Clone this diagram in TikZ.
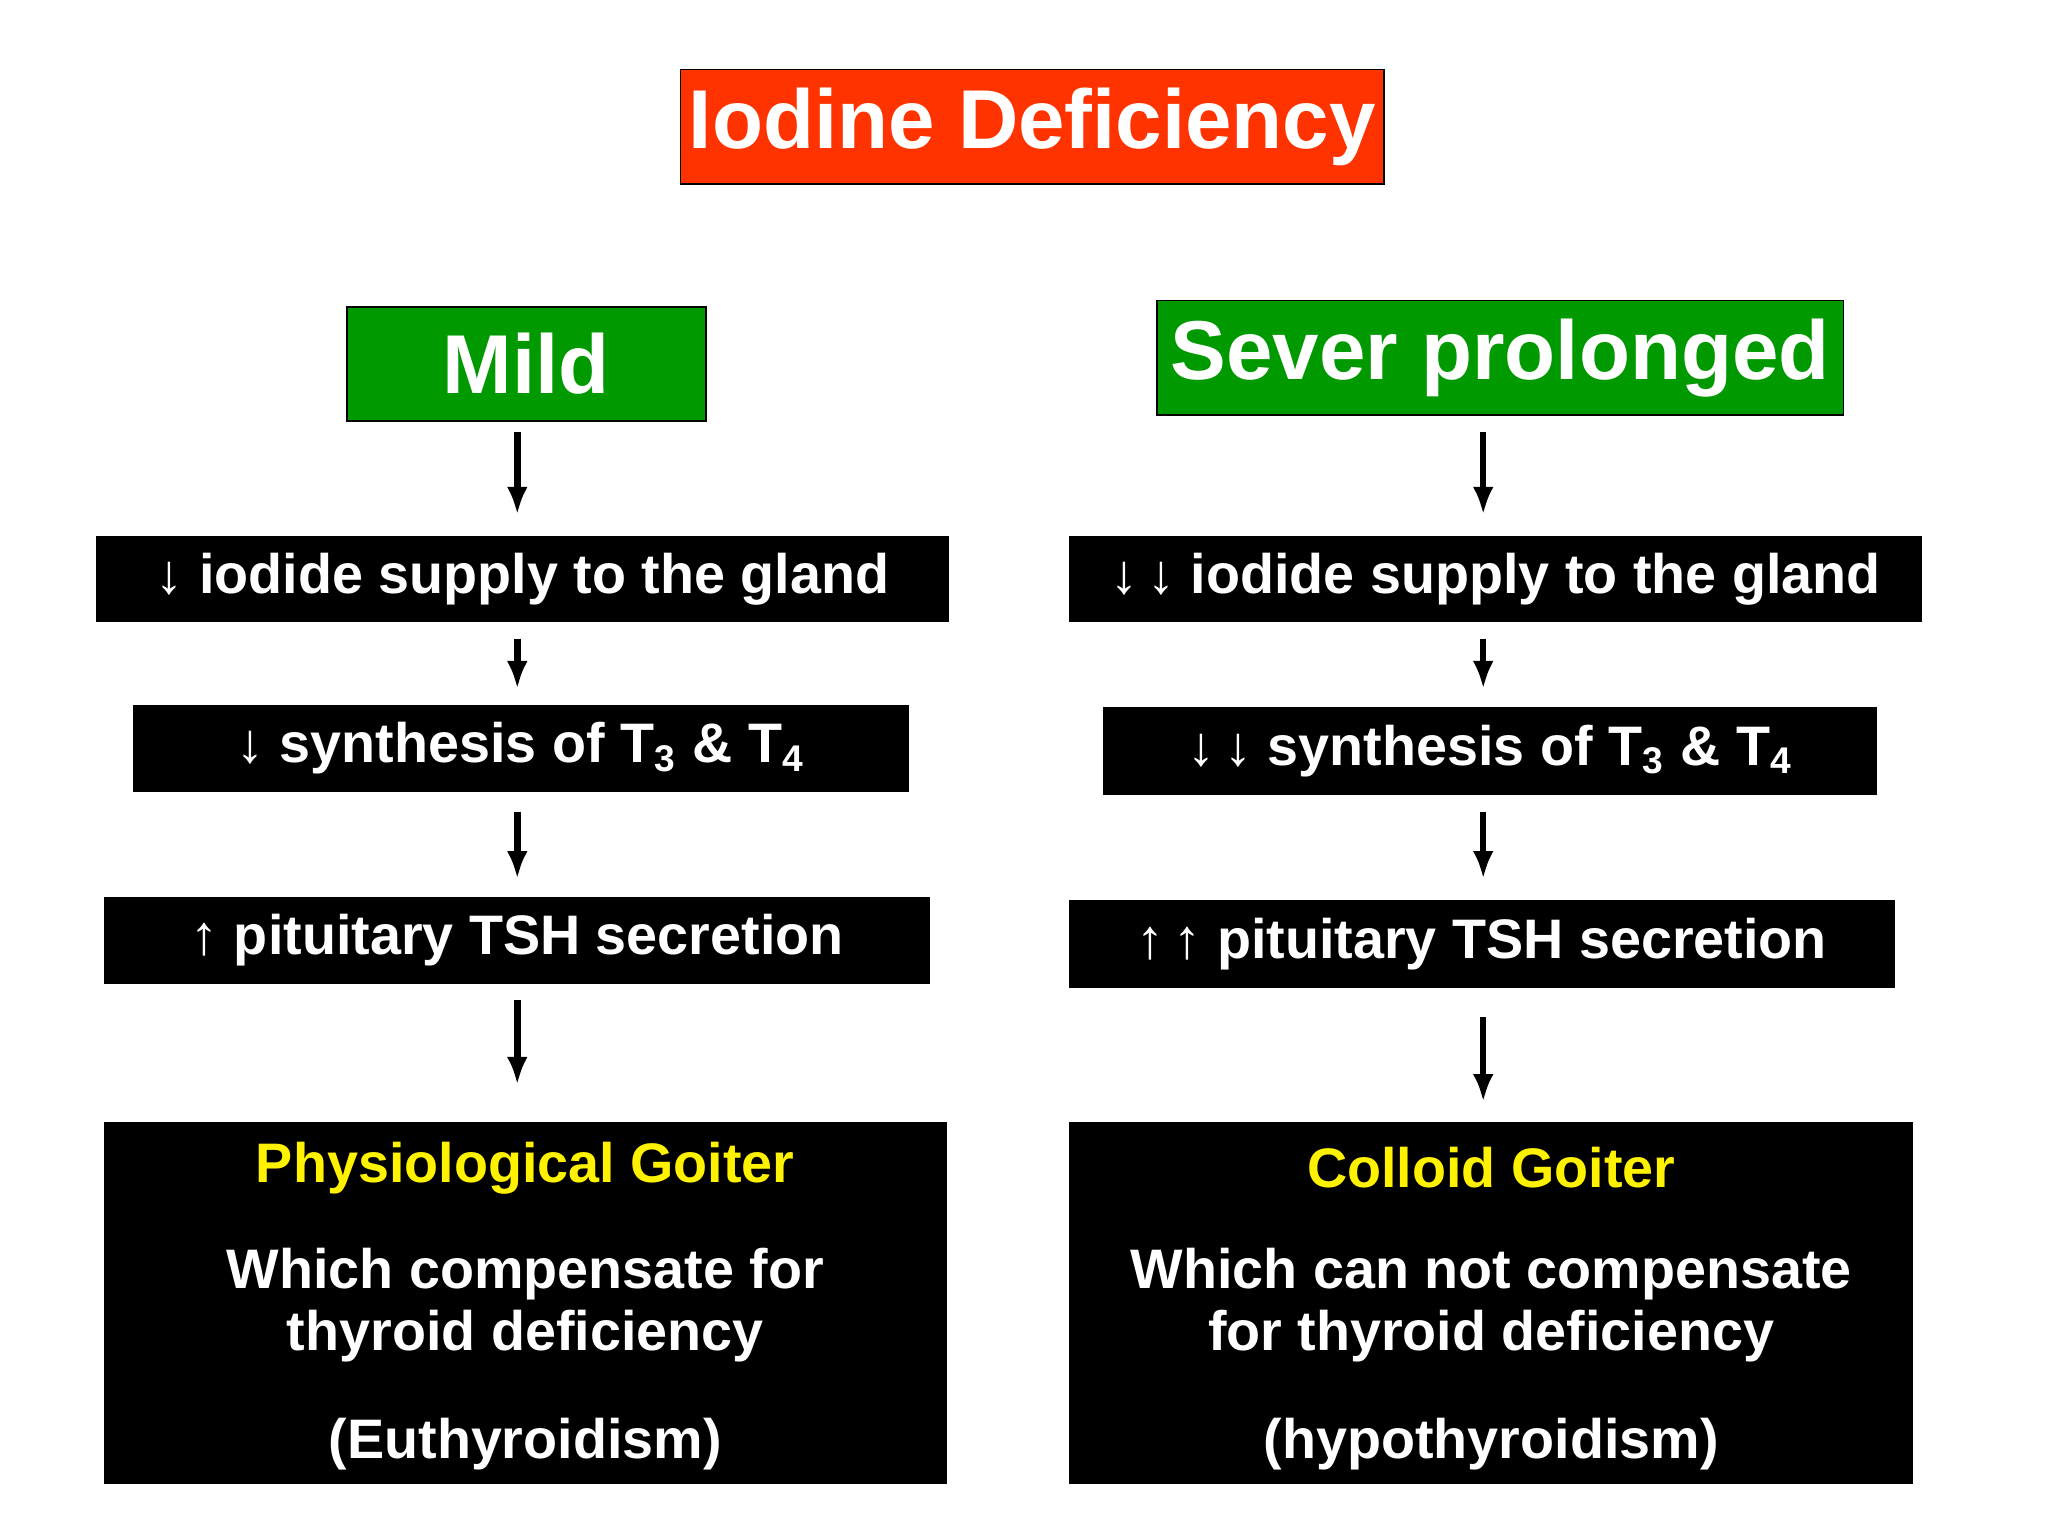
\documentclass[tikz,border=0pt]{standalone}
\usepackage{fontspec}
\usetikzlibrary{arrows.meta}
\setmainfont{Liberation Sans}
\newfontfamily\arrfont{Liberation Sans}
\newcommand{\dn}{{\arrfont\mdseries ↓}}
\newcommand{\up}{{\arrfont\mdseries ↑}}
\begin{document}
\begin{tikzpicture}[x=0.01cm,y=-0.01cm,
  bx/.style={draw=black,fill=black,text=white,font=\bfseries\fontsize{12}{14.5}\selectfont,inner sep=0pt,anchor=north west},
  gr/.style={draw=black,fill=green!60!black,text=white,font=\bfseries\fontsize{18}{21}\selectfont,inner sep=0pt,anchor=north west},
  tx/.style={font=\bfseries\fontsize{12}{14.5}\selectfont},
  ar/.style={-{Latex[length=6pt,width=4.5pt]},line width=1.4pt}]
\useasboundingbox (0,0) rectangle (1552,1164);
\node[draw=black,fill={rgb,255:red,255;green,51;blue,0},text=white,font=\bfseries\fontsize{18}{21}\selectfont,inner sep=0pt,anchor=north west,minimum width=5.33cm,minimum height=0.87cm] (t) at (515,52) {Iodine Deficiency};
\node[gr,minimum width=2.72cm,minimum height=0.86cm] (m) at (262,232) {Mild};
\node[gr,minimum width=5.20cm,minimum height=0.87cm] (s) at (876,227) {Sever prolonged};
\node[bx,minimum width=6.44cm,minimum height=0.64cm] (l1) at (73,406) {\dn\ iodide supply to the gland};
\node[bx,minimum width=6.45cm,minimum height=0.64cm] (r1) at (810,406) {\dn\,\dn\ iodide supply to the gland};
\node[bx,minimum width=5.86cm,minimum height=0.65cm] (l2) at (101,534) {\dn\ synthesis of T\textsubscript{3} \& T\textsubscript{4}};
\node[bx,minimum width=5.85cm,minimum height=0.65cm] (r2) at (836,536) {\dn\,\dn\ synthesis of T\textsubscript{3} \& T\textsubscript{4}};
\node[bx,minimum width=6.24cm,minimum height=0.64cm] (l3) at (79,680) {\up\ pituitary TSH secretion};
\node[bx,minimum width=6.24cm,minimum height=0.65cm] (r3) at (810,682) {\up\,\up\ pituitary TSH secretion};
\node[bx,minimum width=6.37cm,minimum height=2.73cm] (l4) at (79,850) {};
\node[bx,minimum width=6.38cm,minimum height=2.73cm] (r4) at (810,850) {};
\node[tx,text=yellow] (l4a) at (398,885) {Physiological Goiter};
\node[tx,text=white,align=center] (l4b) at (398,989) {Which compensate for\\[-1pt]thyroid deficiency};
\node[tx,text=white] (l4c) at (398,1094) {(Euthyroidism)};
\node[tx,text=yellow] (r4a) at (1130,885) {Colloid Goiter};
\node[tx,text=white,align=center] (r4b) at (1130,989) {Which can not compensate\\[-1pt]for thyroid deficiency};
\node[tx,text=white] (r4c) at (1130,1094) {(hypothyroidism)};
\coordinate (a1) at (392,327); \coordinate (a1e) at (392,390);
\coordinate (a2) at (392,484); \coordinate (a2e) at (392,522);
\coordinate (a3) at (392,615); \coordinate (a3e) at (392,666);
\coordinate (a4) at (392,758); \coordinate (a4e) at (392,822);
\coordinate (b1) at (1124,327); \coordinate (b1e) at (1124,390);
\coordinate (b2) at (1124,484); \coordinate (b2e) at (1124,522);
\coordinate (b3) at (1124,615); \coordinate (b3e) at (1124,666);
\coordinate (b4) at (1124,771); \coordinate (b4e) at (1124,835);
\foreach \p in {a1,a2,a3,a4,b1,b2,b3,b4} \draw[ar] (\p) -- (\p e);
\end{tikzpicture}
\end{document}
